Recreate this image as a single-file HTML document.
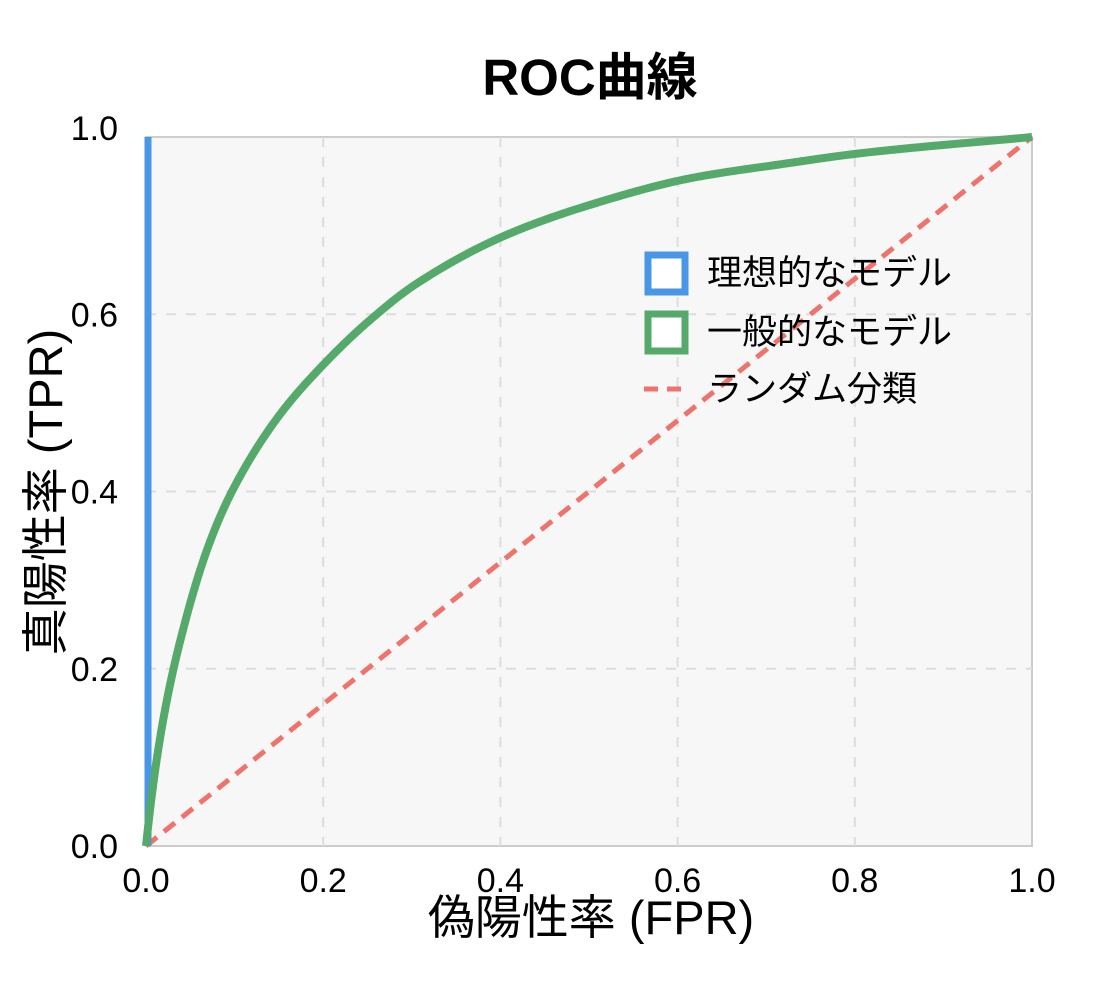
<!DOCTYPE html>
<html><head><meta charset="utf-8">
<style>
html,body{margin:0;padding:0;background:#fff;}
svg text{font-family:"Liberation Sans","Noto Sans CJK JP",sans-serif;fill:#000;}
</style></head>
<body>
<svg id="chart" width="1098" height="976" viewBox="0 0 1098 976" xmlns="http://www.w3.org/2000/svg">
<text x="590" y="95" text-anchor="middle" font-size="51" font-weight="bold">ROC曲線</text>
<rect x="146" y="137" width="886" height="709" fill="#f7f7f7" stroke="#cccccc" stroke-width="2"/>
<g id="grid"></g>
<g id="series"></g>
<g id="ticks"></g>
<text x="591" y="934" text-anchor="middle" font-size="47">偽陽性率 (FPR)</text>
<text transform="translate(62,492) rotate(-90)" text-anchor="middle" font-size="47">真陽性率 (TPR)</text>
<g>
<rect x="648" y="255" width="37" height="37" fill="#fff" stroke="#4a96e6" stroke-width="7"/>
<text x="707" y="285" font-size="35">理想的なモデル</text>
<rect x="648" y="314" width="37" height="37" fill="#fff" stroke="#55aa6b" stroke-width="7"/>
<text x="707" y="344" font-size="35">一般的なモデル</text>
<line x1="644" y1="389" x2="690" y2="389" stroke="#ee736c" stroke-width="5" stroke-dasharray="14,9"/>
<text x="707" y="401" font-size="35">ランダム分類</text>
</g>
</svg>
<script>
const xTicks = [0, 0.2, 0.4, 0.6, 0.8, 1.0];
const xTickLabels = ["0.0", "0.2", "0.4", "0.6", "0.8", "1.0"];
const yTicks = [0, 0.25, 0.5, 0.75, 1.0];
const yTickLabels = ["0.0", "0.2", "0.4", "0.6", "1.0"];
const generalFpr = [0, 0.019, 0.045, 0.071, 0.097, 0.149, 0.201, 0.253, 0.304, 0.407, 0.511, 0.615, 0.719, 0.806, 1.0];
const generalTpr = [0, 0.175, 0.32, 0.425, 0.50, 0.605, 0.68, 0.742, 0.792, 0.862, 0.908, 0.942, 0.962, 0.977, 1.0];
const idealFpr = [0, 0];
const idealTpr = [0, 1];
const randomFpr = [0, 1];
const randomTpr = [0, 1];

const NS = "http://www.w3.org/2000/svg";
const X0 = 146, X1 = 1032, Y0 = 846, Y1 = 137;
function sx(v){ return X0 + v * (X1 - X0); }
function sy(v){ return Y0 - v * (Y0 - Y1); }
function mk(tag, attrs, parent){
  const e = document.createElementNS(NS, tag);
  for (const k in attrs) e.setAttribute(k, attrs[k]);
  parent.appendChild(e);
  return e;
}
const grid = document.getElementById('grid');
const ticks = document.getElementById('ticks');
const series = document.getElementById('series');

xTicks.forEach((t, i) => {
  if (t > 0 && t < 1) {
    const l = mk('line', {x1: sx(t), x2: sx(t), y1: Y1, y2: Y0, stroke: '#dddddd', 'stroke-width': 2, 'stroke-dasharray': '10,10'}, grid);
    
    
  }
  const tx = mk('text', {x: sx(t), y: 892, 'text-anchor': 'middle', 'font-size': 34}, ticks);
  tx.textContent = xTickLabels[i];
  
  
});
yTicks.forEach((t, i) => {
  if (t > 0 && t < 1) {
    const l = mk('line', {x1: X0, x2: X1, y1: sy(t), y2: sy(t), stroke: '#dddddd', 'stroke-width': 2, 'stroke-dasharray': '10,10'}, grid);
    
    
  }
  const yy = t === 1 ? sy(t) + 3 : sy(t) + 12;
  const tx = mk('text', {x: 118, y: yy, 'text-anchor': 'end', 'font-size': 34}, ticks);
  tx.textContent = yTickLabels[i];
  
  
});

function pts(xs, ys){ return xs.map((x, i) => sx(x) + ',' + sy(ys[i])).join(' '); }

const rnd = mk('polyline', {points: pts(randomFpr, randomTpr), fill: 'none', stroke: '#ee736c', 'stroke-width': 5, 'stroke-dasharray': '14,9'}, series);



const idl = mk('polyline', {points: idealFpr.map((x, i) => (sx(x) + 2) + ',' + sy(idealTpr[i])).join(' '), fill: 'none', stroke: '#4a96e6', 'stroke-width': 7}, series);



function monotone(xs, ys){
  const n = xs.length, d = [], m = new Array(n);
  for (let i = 0; i < n - 1; i++) d.push((ys[i + 1] - ys[i]) / (xs[i + 1] - xs[i]));
  m[0] = d[0] * 1.3; m[n - 1] = d[n - 2];
  for (let i = 1; i < n - 1; i++) {
    if (d[i - 1] * d[i] <= 0) m[i] = 0;
    else { const h0 = xs[i] - xs[i - 1], h1 = xs[i + 1] - xs[i];
      const w1 = 2 * h1 + h0, w2 = h1 + 2 * h0;
      m[i] = (w1 + w2) / (w1 / d[i - 1] + w2 / d[i]); }
  }
  const out = [];
  for (let i = 0; i < n - 1; i++) {
    const h = xs[i + 1] - xs[i];
    for (let s = 0; s < 20; s++) {
      const t = s / 20, t2 = t * t, t3 = t2 * t;
      const y = (2*t3 - 3*t2 + 1) * ys[i] + (t3 - 2*t2 + t) * h * m[i] + (-2*t3 + 3*t2) * ys[i + 1] + (t3 - t2) * h * m[i + 1];
      out.push([xs[i] + t * h, y]);
    }
  }
  out.push([xs[n - 1], ys[n - 1]]);
  return out;
}
const curve = monotone(generalFpr, generalTpr);
const gen = mk('polyline', {points: curve.map(p => sx(p[0]) + ',' + sy(p[1])).join(' '), fill: 'none', stroke: '#55aa6b', 'stroke-width': 8, 'stroke-linejoin': 'round'}, series);


</script>
</body></html>
